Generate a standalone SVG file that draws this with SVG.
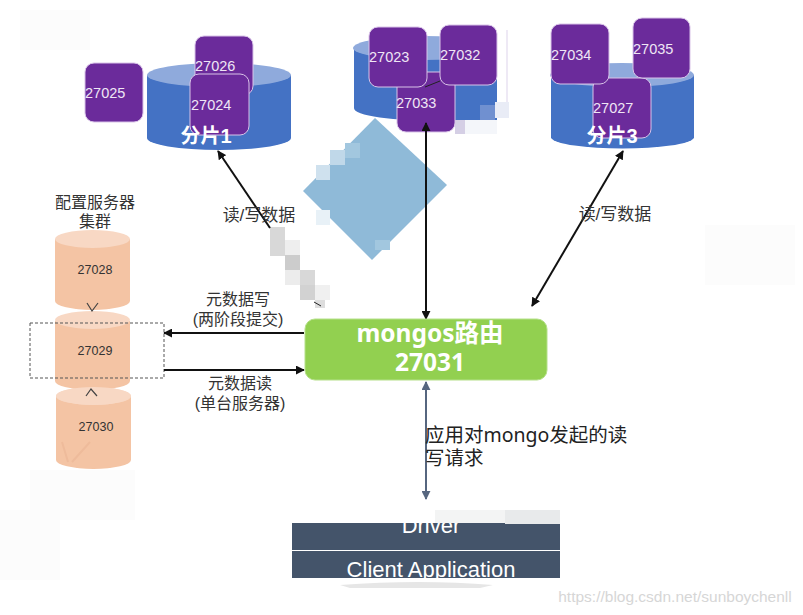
<svg xmlns="http://www.w3.org/2000/svg" width="803" height="615" viewBox="0 0 803 615">
<style>
text{font-family:"Liberation Sans","Noto Sans CJK SC",sans-serif;text-anchor:middle}
.cb{fill:#4472c4}.ct{fill:#8faadc}
.cp{fill:#f4c4a4}.cq{fill:#f8d8c4}
.n rect{fill:#6b2b9b;stroke:#d9c3e8;stroke-width:1}
.n text{font-size:14.500px;fill:#efe6f5;text-anchor:start}
.cfg{font-size:12.500px;fill:#333}
.lb{font-size:16px;fill:#333}
.rw{font-size:17px;fill:#333}
.sh{font-size:20px;font-weight:bold;fill:#fff}
.mg{font-family:"Noto Sans","Noto Sans CJK SC",sans-serif;font-size:24.500px;font-weight:bold;fill:#fff}
.bar{font-size:22px;fill:#fff}
.req{font-family:"Noto Sans","Noto Sans CJK SC",sans-serif;font-size:19.500px;fill:#222;text-anchor:start}
.a{stroke:#111;stroke-width:2;fill:none}
.g{stroke:#56667f;stroke-width:2;fill:none}
</style>
<defs>
<marker id="ah" viewBox="0 0 10 10" refX="9" refY="5" markerWidth="9" markerHeight="9" markerUnits="userSpaceOnUse" orient="auto-start-reverse"><path d="M0 0L10 5L0 10z" fill="#111"/></marker>
<marker id="ag" viewBox="0 0 10 10" refX="9" refY="5" markerWidth="9" markerHeight="9" markerUnits="userSpaceOnUse" orient="auto-start-reverse"><path d="M0 0L10 5L0 10z" fill="#56667f"/></marker>
</defs>
<rect width="803" height="615" fill="#fff"/>

<g id="faint" fill="#fcfcfc">
<rect x="705" y="225" width="90" height="60"/>
<rect x="0" y="510" width="60" height="70"/>
<rect x="30" y="470" width="105" height="50"/>
<rect x="20" y="10" width="70" height="40"/>
<rect x="506" y="30" width="2" height="80" fill="#eee9f5"/>
</g>

<g id="diamond"><path d="M375 118L447 185L372 260L303 191z" fill="#8fbad8"/>
<rect x="330" y="150" width="15" height="15" fill="#c0d8e9"/>
<rect x="345" y="143" width="15" height="15" fill="#a2c7df"/>
<rect x="316" y="165" width="14" height="15" fill="#cfe1ee"/>
<rect x="316" y="210" width="14" height="15" fill="#e8f1f7"/>
<rect x="375" y="240" width="15" height="10" fill="#a2c7df"/>
</g>

<g id="shard1">
<path class="cb" d="M147 75V138A72 12 0 0 0 291 138V75z"/><ellipse class="ct" cx="219" cy="75" rx="72" ry="12"/>
</g>
<g id="shard2">
<path class="cb" d="M354 48V108A72 12 0 0 0 440 120H497V48z"/><ellipse class="ct" cx="425" cy="48" rx="72" ry="12"/>
<rect x="480" y="105" width="15" height="15" fill="#7090d0"/>
<rect x="495" y="102" width="14" height="16" fill="#e9ecf6"/>
<rect x="455" y="120" width="10" height="14" fill="#d5cfe5"/>
<rect x="465" y="120" width="32" height="14" fill="#f4f6fa"/>
</g>
<g id="shard3">
<path class="cb" d="M551 75V138A72 12 0 0 0 694 138V75z"/><ellipse class="ct" cx="622" cy="75" rx="72" ry="12"/>
</g>

<g id="n27025" class="n"><rect x="85" y="63" width="58" height="59" rx="9"/><text x="85" y="98">27025</text></g>
<g id="n27026" class="n"><rect x="195" y="36" width="58" height="59" rx="9"/><text x="195" y="71">27026</text></g>
<g id="n27024" class="n"><rect x="190" y="74" width="59" height="61" rx="9"/><text x="191" y="110">27024</text></g>
<g id="n27033" class="n"><rect x="397" y="72" width="58" height="60" rx="9"/><text x="396" y="108">27033</text></g>
<g id="n27023" class="n"><rect x="369" y="27" width="58" height="60" rx="9"/><text x="369" y="62">27023</text></g>
<g id="n27032" class="n"><rect x="440" y="25" width="57" height="60" rx="9"/><text x="440" y="60">27032</text></g>
<g id="n27027" class="n"><rect x="593" y="78" width="58" height="60" rx="9"/><text x="593" y="113">27027</text></g>
<g id="n27034" class="n"><rect x="551" y="24" width="58" height="60" rx="9"/><text x="551" y="60">27034</text></g>
<g id="n27035" class="n"><rect x="633" y="18" width="57" height="60" rx="9"/><text x="633" y="54">27035</text></g>

<text class="sh" x="206" y="143">分片1</text>
<text class="sh" x="612" y="143">分片3</text>

<g id="config">
<g id="n27030"><path class="cp" d="M56 396V460A37.500 9 0 0 0 131 460V396z"/><ellipse class="cq" cx="93.500" cy="396" rx="37.500" ry="9"/><text class="cfg" x="96" y="431">27030</text></g>
<path d="M62 442L68 462M90 442L72 462" fill="none" stroke="#eebb9b" stroke-width="2"/>
<g id="n27029"><path class="cp" d="M55 321V381A37.500 9 0 0 0 130 381V321z"/><ellipse class="cq" cx="92.500" cy="320" rx="37.500" ry="9"/><text class="cfg" x="95" y="355">27029</text></g>
<ellipse class="cq" cx="93.500" cy="396" rx="37.500" ry="9"/>
<g id="n27028"><path class="cp" d="M55 239V301A37.500 9 0 0 0 130 301V239z"/><ellipse class="cq" cx="92.500" cy="239" rx="37.500" ry="9"/><text class="cfg" x="95" y="274">27028</text></g>
<text class="lb" x="95" y="208">配置服务器</text>
<text class="lb" x="95" y="227">集群</text>
<rect x="30" y="323" width="134" height="55" fill="none" stroke="#555" stroke-width="1" stroke-dasharray="3 2"/>
</g>

<g id="mosaic">
<path d="M262 225L330 225L330 305L262 305z" fill="#fff"/>
<rect x="270" y="227" width="15" height="29" fill="#d8d8d8"/>
<rect x="285" y="240" width="15" height="15" fill="#eeeeee"/>
<rect x="285" y="255" width="15" height="15" fill="#cccccc"/>
<rect x="285" y="270" width="15" height="15" fill="#ececec"/>
<rect x="300" y="270" width="15" height="15" fill="#d8d8d8"/>
<rect x="300" y="285" width="15" height="15" fill="#d2d2d2"/>
<rect x="315" y="285" width="15" height="15" fill="#f0f0f0"/>
<rect x="315" y="300" width="10" height="8" fill="#dddddd"/>
</g>

<g id="connectors">
<path class="a" marker-start="url(#ah)" d="M218 151L270 228"/>
<path class="a" marker-start="url(#ah)" marker-end="url(#ah)" d="M426 123V319"/>
<path class="a" marker-start="url(#ah)" marker-end="url(#ah)" d="M623 151L532 306"/>
<path class="a" marker-end="url(#ah)" d="M304 333H164"/>
<path class="a" marker-end="url(#ah)" d="M164 370H304"/>
<path class="g" marker-start="url(#ag)" marker-end="url(#ag)" d="M426 382V499"/>
<path d="M87 303L92 311L98 303" fill="none" stroke="#444" stroke-width="1.200"/>
<path d="M86 396L91 389L97 396" fill="none" stroke="#444" stroke-width="1.200"/>
<path d="M425 87L440 81" fill="none" stroke="#222"/>
<path d="M314 302L321 306" fill="none" stroke="#222"/>
</g>

<g id="mongos"><rect x="305" y="319" width="242" height="61" rx="10" fill="#92d050" stroke="#b5e08a"/>
<text class="mg" x="430" y="342">mongos路由</text>
<text class="mg" x="430" y="371">27031</text></g>

<g id="driver"><rect x="292" y="523" width="268" height="27" fill="#44546a"/><text class="bar" x="431" y="533">Driver</text></g>
<g id="client"><rect x="292" y="551" width="268" height="27" fill="#44546a"/><text class="bar" x="431" y="577">Client Application</text></g>
<rect x="280" y="503" width="155" height="20" fill="#fff"/>
<rect x="435" y="503" width="135" height="7" fill="#fff"/>
<rect x="435" y="510" width="70" height="13" fill="#f3f4f4"/>
<rect x="505" y="510" width="55" height="14" fill="#e8eaeb"/>
<rect x="280" y="578" width="290" height="5" fill="#fff"/>
<path d="M340 585Q420 579 493 585L480 588H350z" fill="#e6e6e6"/>

<g id="labels">
<text class="rw" x="259" y="221">读/写数据</text>
<text class="rw" x="615" y="220">读/写数据</text>
<text class="lb" x="238" y="305">元数据写</text>
<text class="lb" x="238" y="325">(两阶段提交)</text>
<text class="lb" x="240" y="389">元数据读</text>
<text class="lb" x="240" y="409">(单台服务器)</text>
<text class="req" x="425" y="442">应用对mongo发起的读</text>
<text class="req" x="425" y="465">写请求</text>
<text x="675" y="602" style="font-size:15.500px;fill:#d6d6d6">https://blog.csdn.net/sunboychenll</text>
</g>
</svg>
